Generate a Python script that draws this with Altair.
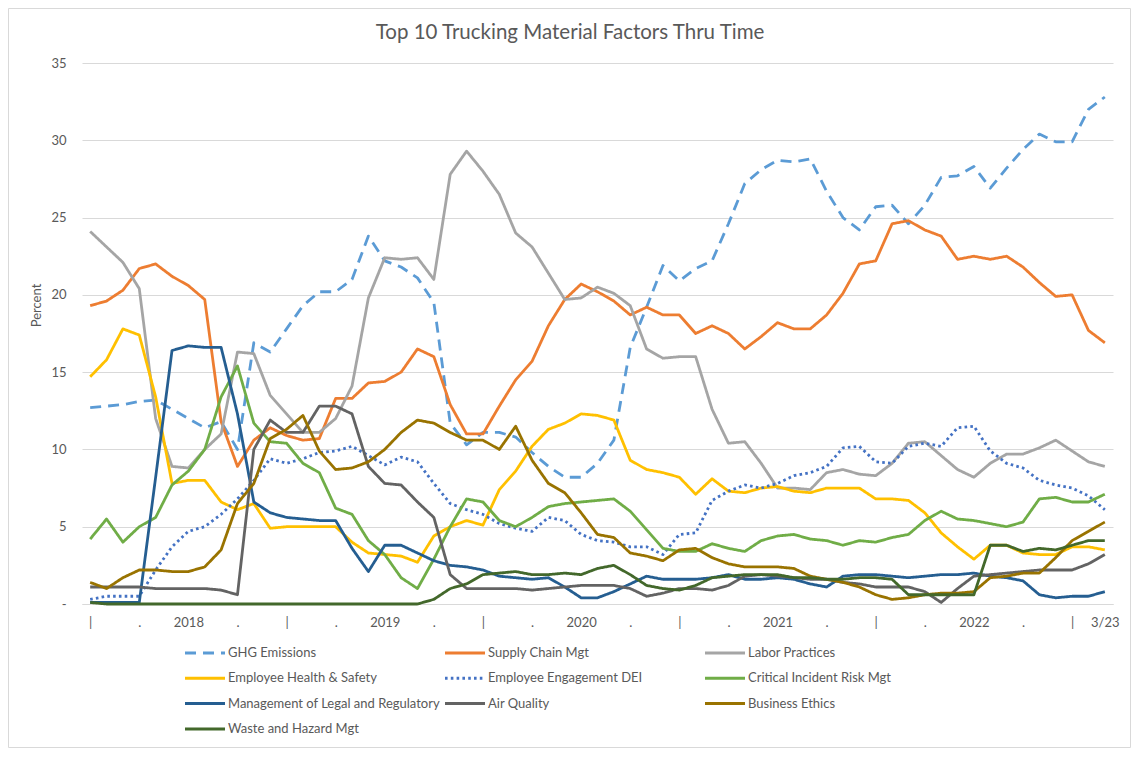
import json
import altair as alt
import pandas as pd

# Monthly index: 0 = Jan 2018 ... 62 = Mar 2023
n_months = 63

series_names = [
    "GHG Emissions", "Supply Chain Mgt", "Labor Practices",
    "Employee Health & Safety", "Employee Engagement DEI", "Critical Incident Risk Mgt",
    "Management of Legal and Regulatory", "Air Quality", "Business Ethics",
    "Waste and Hazard Mgt",
]
series_colors = [
    "#5B9BD5", "#ED7D31", "#A5A5A5", "#FFC000", "#4472C4", "#70AD47",
    "#255E91", "#636363", "#997300", "#43682B",
]
series_dashes = [
    [11, 7], [1, 0], [1, 0], [1, 0], [2.6, 3.2], [1, 0],
    [1, 0], [1, 0], [1, 0], [1, 0],
]

ghg = [12.7, 12.8, 12.9, 13.1, 13.2, 12.6, 12.0, 11.4, 11.8, 10.0, 16.9, 16.3, 17.8, 19.3, 20.2, 20.2,
       21.0, 23.8, 22.2, 21.8, 21.1, 19.5, 11.7, 10.3, 11.1, 11.1, 10.8, 9.8, 8.9, 8.2, 8.2, 9.1,
       10.6, 16.6, 19.2, 21.9, 20.9, 21.7, 22.2, 24.6, 27.2, 28.1, 28.7, 28.6, 28.8, 26.7, 25.0, 24.2,
       25.7, 25.8, 24.6, 25.8, 27.6, 27.7, 28.3, 26.9, 28.2, 29.4, 30.4, 29.9, 29.9, 32.0, 32.8]
supply_chain = [19.3, 19.6, 20.3, 21.7, 22.0, 21.2, 20.6, 19.7, 11.8, 8.9, 10.6, 11.4, 10.9, 10.6, 10.7, 13.3,
                13.3, 14.3, 14.4, 15.0, 16.5, 16.0, 12.9, 11.0, 11.0, 12.8, 14.5, 15.7, 18.0, 19.7, 20.7, 20.2,
                19.6, 18.7, 19.2, 18.7, 18.7, 17.5, 18.0, 17.5, 16.5, 17.3, 18.2, 17.8, 17.8, 18.7, 20.1, 22.0,
                22.2, 24.6, 24.8, 24.2, 23.8, 22.3, 22.5, 22.3, 22.5, 21.8, 20.8, 19.9, 20.0, 17.7, 16.9]
labor = [24.1, 23.1, 22.1, 20.4, 12.0, 8.9, 8.8, 10.0, 11.0, 16.3, 16.2, 13.5, 12.3, 11.1, 11.1, 12.0,
         14.1, 19.8, 22.4, 22.3, 22.4, 21.0, 27.8, 29.3, 28.0, 26.5, 24.0, 23.1, 21.4, 19.7, 19.8, 20.5,
         20.1, 19.3, 16.5, 15.9, 16.0, 16.0, 12.6, 10.4, 10.5, 9.1, 7.5, 7.5, 7.4, 8.5, 8.7, 8.4,
         8.3, 9.1, 10.4, 10.5, 9.6, 8.7, 8.2, 9.1, 9.7, 9.7, 10.1, 10.6, 9.9, 9.2, 8.9]
health_safety = [14.7, 15.8, 17.8, 17.4, 13.4, 7.8, 8.0, 8.0, 6.6, 6.1, 6.5, 4.9, 5.0, 5.0, 5.0, 5.0,
                 4.0, 3.3, 3.2, 3.1, 2.7, 4.4, 5.0, 5.4, 5.1, 7.4, 8.6, 10.2, 11.3, 11.7, 12.3, 12.2,
                 11.9, 9.3, 8.7, 8.5, 8.2, 7.1, 8.1, 7.3, 7.2, 7.5, 7.6, 7.3, 7.2, 7.5, 7.5, 7.5,
                 6.8, 6.8, 6.7, 5.9, 4.6, 3.7, 2.9, 3.8, 3.8, 3.3, 3.2, 3.2, 3.7, 3.7, 3.5]
engagement_dei = [0.3, 0.5, 0.5, 0.5, 2.2, 3.7, 4.7, 5.0, 5.8, 6.8, 8.0, 9.4, 9.1, 9.4, 9.8, 9.9,
                  10.2, 9.6, 9.0, 9.5, 9.2, 7.8, 6.5, 6.1, 5.8, 5.2, 4.9, 4.7, 5.6, 5.4, 4.5, 4.1,
                  4.0, 3.7, 3.7, 3.2, 4.5, 4.6, 6.7, 7.3, 7.7, 7.5, 7.8, 8.3, 8.5, 8.9, 10.1, 10.2,
                  9.2, 9.1, 10.2, 10.4, 10.2, 11.4, 11.5, 9.9, 9.1, 8.8, 8.0, 7.7, 7.5, 7.0, 6.1]
critical_incident = [4.2, 5.5, 4.0, 5.0, 5.6, 7.7, 8.6, 10.0, 13.4, 15.4, 11.7, 10.5, 10.4, 9.1, 8.5, 6.2,
                     5.8, 4.1, 3.2, 1.7, 1.0, 2.9, 5.0, 6.8, 6.6, 5.4, 5.0, 5.6, 6.3, 6.5, 6.6, 6.7,
                     6.8, 6.0, 4.8, 3.6, 3.4, 3.4, 3.9, 3.6, 3.4, 4.1, 4.4, 4.5, 4.2, 4.1, 3.8, 4.1,
                     4.0, 4.3, 4.5, 5.4, 6.0, 5.5, 5.4, 5.2, 5.0, 5.3, 6.8, 6.9, 6.6, 6.6, 7.1]
legal_regulatory = [0.1, 0.1, 0.1, 0.1, 8.2, 16.4, 16.7, 16.6, 16.6, 12.3, 6.6, 5.9, 5.6, 5.5, 5.4, 5.4,
                    3.6, 2.1, 3.8, 3.8, 3.3, 2.8, 2.5, 2.4, 2.2, 1.8, 1.7, 1.6, 1.7, 1.1, 0.4, 0.4,
                    0.8, 1.3, 1.8, 1.6, 1.6, 1.6, 1.7, 1.9, 1.6, 1.6, 1.7, 1.6, 1.3, 1.1, 1.8, 1.9,
                    1.9, 1.8, 1.7, 1.8, 1.9, 1.9, 2.0, 1.8, 1.7, 1.5, 0.6, 0.4, 0.5, 0.5, 0.8]
air_quality = [1.1, 1.1, 1.1, 1.1, 1.0, 1.0, 1.0, 1.0, 0.9, 0.6, 10.0, 11.9, 11.1, 11.1, 12.8, 12.8,
               12.3, 8.9, 7.8, 7.7, 6.6, 5.6, 1.9, 1.0, 1.0, 1.0, 1.0, 0.9, 1.0, 1.1, 1.2, 1.2,
               1.2, 1.0, 0.5, 0.7, 1.0, 1.0, 0.9, 1.2, 1.8, 1.9, 1.8, 1.7, 1.6, 1.6, 1.4, 1.3,
               1.1, 1.1, 1.1, 0.8, 0.1, 1.0, 1.8, 1.9, 2.0, 2.1, 2.2, 2.2, 2.2, 2.6, 3.2]
business_ethics = [1.4, 1.0, 1.7, 2.2, 2.2, 2.1, 2.1, 2.4, 3.5, 6.5, 7.8, 10.7, 11.3, 12.2, 9.9, 8.7,
                   8.8, 9.2, 10.0, 11.1, 11.9, 11.7, 11.1, 10.6, 10.6, 10.0, 11.5, 9.3, 7.8, 7.2, 5.9, 4.5,
                   4.3, 3.3, 3.1, 2.8, 3.5, 3.6, 3.0, 2.6, 2.4, 2.4, 2.4, 2.3, 1.8, 1.6, 1.4, 1.1,
                   0.6, 0.3, 0.4, 0.6, 0.7, 0.7, 0.8, 1.7, 1.8, 2.0, 2.0, 3.0, 4.1, 4.7, 5.3]
waste_hazard = [0.1, 0.0, 0.0, 0.0, 0.0, 0.0, 0.0, 0.0, 0.0, 0.0, 0.0, 0.0, 0.0, 0.0, 0.0, 0.0,
                0.0, 0.0, 0.0, 0.0, 0.0, 0.3, 1.0, 1.3, 1.9, 2.0, 2.1, 1.9, 1.9, 2.0, 1.9, 2.3,
                2.5, 1.9, 1.2, 1.0, 0.9, 1.2, 1.7, 1.8, 1.9, 1.9, 1.9, 1.7, 1.7, 1.6, 1.6, 1.7,
                1.7, 1.6, 0.6, 0.6, 0.6, 0.6, 0.6, 3.8, 3.8, 3.4, 3.6, 3.5, 3.8, 4.1, 4.1]

series_values = [ghg, supply_chain, labor, health_safety, engagement_dei, critical_incident,
                 legal_regulatory, air_quality, business_ethics, waste_hazard]

# Category labels every quarter: "|" at January, year at July, "." in between
tick_positions = [0, 3, 6, 9, 12, 15, 18, 21, 24, 27, 30, 33, 36, 39, 42, 45, 48, 51, 54, 57, 60, 62]
tick_labels = ["|", ".", "2018", ".", "|", ".", "2019", ".", "|", ".", "2020", ".",
               "|", ".", "2021", ".", "|", ".", "2022", ".", "|", "3/23"]

y_ticks = [0, 5, 10, 15, 20, 25, 30, 35]
chart_title = "Top 10 Trucking Material Factors Thru Time"

rows = []
for name, vals in zip(series_names, series_values):
    for i, v in enumerate(vals):
        rows.append({"month": i, "series": name, "pct": v})
df = pd.DataFrame(rows)

label_lookup = [""] * n_months
for pos, lab in zip(tick_positions, tick_labels):
    label_lookup[pos] = lab
x_label_expr = json.dumps(label_lookup) + "[datum.value]"

FONT = "Lato"
TEXT = "#595959"
GRID = "#D9D9D9"
W, H = 1031, 541

legend = alt.Legend(
    title=None, orient="none", legendX=101.5, legendY=579.5, direction="horizontal",
    columns=3, gridAlign="all", columnPadding=3, rowPadding=4.3, clipHeight=21,
    symbolType="stroke", symbolSize=1600, symbolStrokeWidth=3,
    labelFont=FONT, labelFontSize=13, labelColor=TEXT, labelOffset=1.5, labelLimit=400,
    padding=0,
)

lines = alt.Chart(df).mark_line(strokeWidth=2.8, strokeJoin="round").encode(
    x=alt.X("month:Q", scale=alt.Scale(domain=[-0.5, n_months - 0.5], nice=False, zero=False),
            axis=alt.Axis(values=tick_positions, labelExpr=x_label_expr, title=None, grid=False,
                          ticks=False, domainColor=GRID, domainWidth=1, labelPadding=12,
                          labelFont=FONT, labelFontSize=13, labelColor=TEXT, labelOverlap=False,
                          labelFlush=False)),
    y=alt.Y("pct:Q", scale=alt.Scale(domain=[0, 35], nice=False),
            axis=alt.Axis(values=y_ticks, labelExpr="datum.value == 0 ? '-' : datum.label",
                          title="Percent", titleFont=FONT, titleFontSize=13, titleColor=TEXT,
                          titleFontWeight="normal", titleX=-46, titleY=242, titleAngle=270,
                          titleBaseline="middle", titleAlign="center",
                          grid=True, gridColor=GRID, gridWidth=1, domain=False, ticks=False,
                          labelPadding=16, labelFont=FONT, labelFontSize=13, labelColor=TEXT)),
    color=alt.Color("series:N", scale=alt.Scale(domain=series_names, range=series_colors),
                    legend=legend),
    strokeDash=alt.StrokeDash("series:N", scale=alt.Scale(domain=series_names, range=series_dashes),
                              legend=legend),
    order=alt.value(0),
)

frame = alt.Chart(alt.Data(values=[{}])).mark_rect(
    fillOpacity=0, stroke=GRID, strokeWidth=1
).encode(x=alt.value(-73.5), x2=alt.value(1048.5), y=alt.value(-54.5), y2=alt.value(684.5))

title = alt.Chart(alt.Data(values=[{}])).mark_text(
    text=chart_title, font=FONT, fontSize=20.5, color=TEXT, align="center", baseline="middle"
).encode(x=alt.value(488), y=alt.value(-30))

chart = alt.layer(frame, lines, title).properties(
    width=W, height=H,
    autosize=alt.AutoSizeParams(type="none"),
    padding={"left": 82, "top": 63, "right": 27, "bottom": 156},
    background="white",
).configure_view(stroke=None)

chart.save("out.html", embed_options={"renderer": "svg", "actions": False})
